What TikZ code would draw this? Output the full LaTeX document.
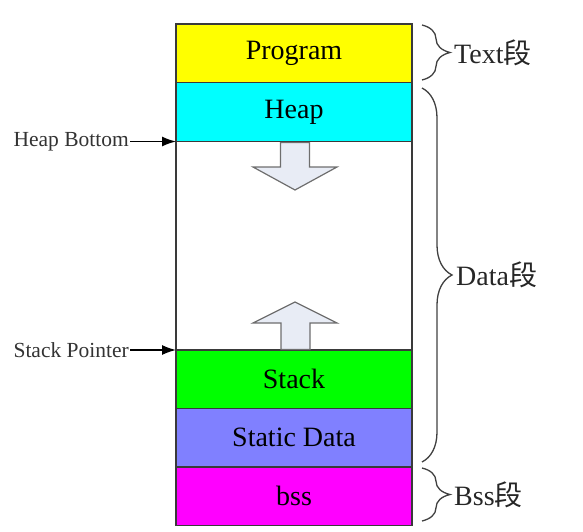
\documentclass[tikz,border=0pt]{standalone}
\usepackage{fontspec}
\setmainfont{Liberation Serif}
\newfontfamily\tms{Liberation Serif}
\newfontfamily\cjk{Noto Sans CJK SC}
\usetikzlibrary{decorations.pathreplacing,arrows.meta}
\definecolor{segline}{HTML}{3A3A3A}
\definecolor{progc}{HTML}{FFFF00}
\definecolor{heapc}{HTML}{00FFFF}
\definecolor{stackc}{HTML}{00FF00}
\definecolor{statc}{HTML}{8080FF}
\definecolor{bssc}{HTML}{FF00FF}
\definecolor{arrfill}{HTML}{E8ECF5}
\definecolor{arrline}{HTML}{6E6E6E}
\tikzset{
  seg/.style={draw=segline, line width=1.3pt, minimum width=236pt, minimum height=58.5pt,
    anchor=north, inner sep=0pt, outer sep=0pt, font=\tms\fontsize{28}{30}\selectfont},
  lbl/.style={inner sep=1pt, font=\tms\fontsize{21.5}{24}\selectfont, text=black!80},
  side/.style={inner sep=0pt, font=\tms\fontsize{28}{30}\selectfont, text=black!85, anchor=west},
  ptr/.style={line width=1.3pt, -{Latex[length=14pt,width=10pt]}},
  brc/.style={draw=black!75, line width=1.3pt, decorate},
  growarrow/.style={fill=arrfill, draw=arrline, line width=1.2pt, line join=miter},
}
\begin{document}
\begin{tikzpicture}[x=1pt,y=-1pt]
\useasboundingbox (0,0) rectangle (583,532);
% segments
\node[seg, fill=progc] (prog) at (294,24) {Program};
\node[seg, fill=heapc, minimum height=59pt] (heap) at (prog.south) {Heap};
\node[seg, minimum height=208.5pt] (gap) at (heap.south) {};
\node[seg, fill=stackc] (stack) at (gap.south) {Stack};
\node[seg, fill=statc] (static) at (stack.south) {Static Data};
\node[seg, fill=bssc] (bss) at (static.south) {bss};
% growth arrows
\draw[growarrow] (280.5,142.5) -- (309.5,142.5) -- (309.5,167) -- (337,167) -- (295,190)
  -- (253,167) -- (280.5,167) -- cycle;
\draw[growarrow] (281,349.5) -- (310,349.5) -- (310,323) -- (337,323) -- (295,302)
  -- (253,323) -- (281,323) -- cycle;
% pointers
\node[lbl, anchor=east] (hb) at (130,141.5) {Heap Bottom};
\node[lbl, anchor=east] (sp) at (130,350) {Stack Pointer};
\draw[ptr] (hb.east |- heap.south) -- (heap.south west);
\draw[ptr] (sp.east |- stack.north) -- (stack.north west);
% braces
\coordinate (t1) at (422,25);
\coordinate (t2) at (422,80);
\coordinate (d1) at (422,88);
\coordinate (d2) at (422,462);
\coordinate (b1) at (422,468);
\coordinate (b2) at (422,521);
\draw[brc, decoration={brace, amplitude=28pt}] (t1) -- (t2);
\draw[brc, decoration={brace, amplitude=30pt}] (d1) -- (d2);
\draw[brc, decoration={brace, amplitude=28pt}] (b1) -- (b2);
\node[side] (tt) at (454,52.5) {Text{\cjk 段}};
\node[side] (dt) at (456,275) {Data{\cjk 段}};
\node[side] (bt) at (454,494.5) {Bss{\cjk 段}};
\end{tikzpicture}
\end{document}
